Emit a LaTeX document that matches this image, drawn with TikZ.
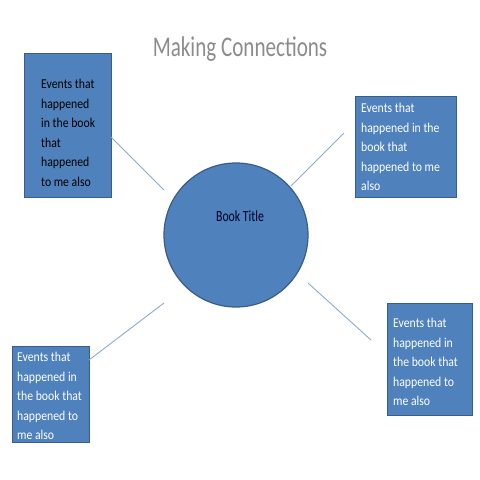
\documentclass[tikz,border=0pt]{standalone}
\usepackage{fontspec}
\setmainfont{Carlito}
\newfontfamily\bodyfont[FakeStretch=0.87]{Carlito}
\newfontfamily\titlefont[FakeStretch=0.74]{Carlito}
\newfontfamily\centrefont[FakeStretch=0.76]{Carlito}
\definecolor{boxblue}{HTML}{4F81BD}
\definecolor{boxedge}{HTML}{385D8A}
\definecolor{linkblue}{HTML}{8EA9CF}
\definecolor{titlegray}{HTML}{8C8C8C}
\begin{document}
\begin{tikzpicture}[x=1pt,y=-1pt,
  evbox/.style={draw=boxedge,fill=boxblue,line width=1.2pt,inner sep=0pt,anchor=north west},
  evtext/.style={anchor=north west,inner sep=0pt,align=left,font=\bodyfont\fontsize{13.5}{19.5}\selectfont},
  link/.style={draw=linkblue,line width=0.9pt}]
\useasboundingbox (0,0) rectangle (480,480);
\fill[white] (0,0) rectangle (480,480);
\node[font=\titlefont\fontsize{28.5}{32}\selectfont,text=titlegray,inner sep=0pt] (title) at (240,49) {Making Connections};
% boxes
\node[evbox,minimum width=87pt,minimum height=144pt] (b1) at (24,53) {};
\node[evbox,minimum width=101pt,minimum height=101pt] (b2) at (355,96) {};
\node[evbox,minimum width=77pt,minimum height=96pt] (b3) at (12,346) {};
\node[evbox,minimum width=85pt,minimum height=112pt] (b4) at (387,303) {};
% circle
\node[draw=boxedge,fill=boxblue,line width=1.2pt,circle,minimum size=144pt,inner sep=0pt] (c) at (236,235) {};
\node[font=\centrefont\fontsize{15.5}{18}\selectfont,text=black!85!blue,inner sep=0pt] (ct) at (240,216) {Book Title};
% texts
\node[evtext,text=black] (t1) at (41,79) {Events that\\happened\\in the book\\that\\happened\\to me also};
\node[evtext,text=white] (t2) at (361,103) {Events that\\happened in the\\book that\\happened to me\\also};
\node[evtext,text=white] (t3) at (17,352) {Events that\\happened in\\the book that\\happened to\\me also};
\node[evtext,text=white] (t4) at (393,318) {Events that\\happened in\\the book that\\happened to\\me also};
% connector ends
\coordinate (l1a) at (111,137); \coordinate (l1b) at (164,190);
\coordinate (l2a) at (291,186); \coordinate (l2b) at (344,133);
\coordinate (l3a) at (89,360); \coordinate (l3b) at (164,303);
\coordinate (l4a) at (308,283); \coordinate (l4b) at (371,340);
\draw[link] (l1a) -- (l1b);
\draw[link] (l2a) -- (l2b);
\draw[link] (l3a) -- (l3b);
\draw[link] (l4a) -- (l4b);
\end{tikzpicture}
\end{document}
